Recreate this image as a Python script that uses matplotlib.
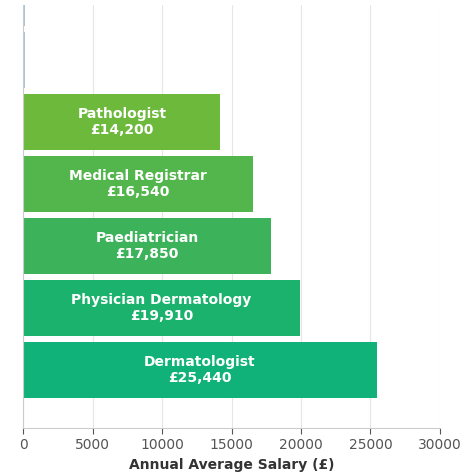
import matplotlib.pyplot as plt

jobs = ["Dermatologist", "Physician Dermatology", "Paediatrician", "Medical Registrar", "Pathologist", "", ""]
salaries = [25440, 19910, 17850, 16540, 14200, 120, 120]
colors = ["#10b27a", "#1ab26c", "#3cb35a", "#52b64c", "#6cb93c", "#a9c4dc", "#a9c4dc"]

fig = plt.figure(figsize=(4.74, 4.74), dpi=100)
ax = fig.add_axes([0.049, 0.097, 0.879, 0.892])
pos = list(range(len(jobs)))
ax.barh(pos, salaries, height=0.9, color=colors, zorder=2)
for p, name, val in zip(pos, jobs, salaries):
    if name:
        ax.text(val / 2, p, f"{name}\n£{val:,}", ha="center", va="center",
                color="white", fontsize=10, fontweight="bold", linespacing=1.2, zorder=3)

ax.set_xlim(0, 30000)
ax.set_ylim(-0.935, 5.89)
ax.set_xticks(range(0, 30001, 5000))
ax.set_yticks([])
ax.grid(axis="x", color="#e6e6e6", linewidth=0.8, zorder=0)
for s in ["top", "right"]:
    ax.spines[s].set_visible(False)
ax.spines["left"].set_color("#cccccc")
ax.spines["bottom"].set_color("#cccccc")
ax.tick_params(axis="x", colors="#555555", labelsize=10, length=4)
ax.set_xlabel("Annual Average Salary (£)", fontsize=10, fontweight="bold", color="#333333")
fig.savefig("out.png", dpi=100)
